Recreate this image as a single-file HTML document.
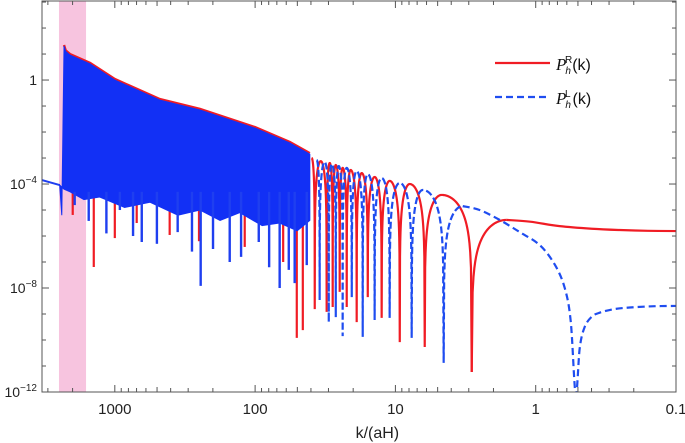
<!DOCTYPE html>
<html><head><meta charset="utf-8"><style>
html,body{margin:0;padding:0;background:#fff;}
svg{display:block;font-family:"Liberation Sans",sans-serif;}
</style></head><body>
<svg id="chart" width="685" height="443" viewBox="0 0 685 443" xmlns="http://www.w3.org/2000/svg">
<g id="plot"></g>
<g id="axes"></g>
<g>
  <line x1="495" y1="63" x2="550" y2="63" stroke="#f01c24" stroke-width="2.2"/>
  <text x="556" y="70" font-size="17" fill="#111"><tspan font-style="italic" font-family="Liberation Serif, serif">P</tspan><tspan font-size="10" dy="4" dx="-1" font-style="italic">h</tspan><tspan font-size="10" dy="-11" dx="-6">R</tspan><tspan font-size="16" dy="7">(k)</tspan></text>
  <line x1="495" y1="97" x2="550" y2="97" stroke="#1f4df0" stroke-width="2.2" stroke-dasharray="7,4"/>
  <text x="556" y="104" font-size="17" fill="#111"><tspan font-style="italic" font-family="Liberation Serif, serif">P</tspan><tspan font-size="10" dy="4" dx="-1" font-style="italic">h</tspan><tspan font-size="10" dy="-11" dx="-6">L</tspan><tspan font-size="16" dy="7" dx="2">(k)</tspan></text>
</g>
</svg>
<script>
// ---- data (log10 k, log10 P) ----
const bandLogK = [3.398, 3.205];
const envUpperLogK = [3.393, 3.378, 3.362, 3.35, 3.319, 3.176, 3.0, 2.679, 2.393, 2.0, 1.753, 1.61];
const envUpperLogP = [-4.04, -5.2, 1.31, 1.1, 0.96, 0.62, 0.0, -0.77, -1.15, -1.85, -2.42, -2.85];
const envLowerLogK = [1.61, 1.70, 1.825, 1.95, 2.11, 2.25, 2.393, 2.55, 2.75, 2.93, 3.108, 3.22, 3.319, 3.362];
const envLowerLogP = [-5.4, -5.8, -5.5, -5.6, -5.1, -5.4, -5.0, -5.2, -4.7, -4.9, -4.5, -4.6, -4.3, -4.2];
const leftLogK = [3.519, 3.393];
const leftLogP = [-3.85, -4.04];
const blueSpikeLogK = [3.286, 3.186, 3.06, 2.964, 2.87, 2.808, 2.70, 2.552, 2.45, 2.388, 2.30, 2.181, 2.10, 1.974, 1.90, 1.825, 1.76, 1.718, 1.632];
const blueSpikeLogP = [-4.81, -5.42, -5.9, -5.0, -6.0, -6.23, -6.3, -5.85, -6.6, -7.92, -6.5, -7.0, -6.8, -6.23, -7.2, -8.0, -7.3, -7.81, -7.12];
const redSpikeLogK = [3.30, 3.15, 3.0, 2.844, 2.609, 2.40, 2.074, 1.80, 1.703, 1.66];
const redSpikeLogP = [-5.19, -7.19, -6.08, -5.5, -5.96, -6.2, -6.42, -7.0, -9.92, -9.62];
const redOscLogK = [1.597,1.575,1.532,1.490,1.468,1.447,1.425,1.397,1.376,1.347,1.319,1.276,1.240,1.197,1.148,1.098,1.041,0.969,0.898,0.791,0.670,0.456];
const redOscLogP = [-3.0,-8.81,-3.12,-8.92,-3.19,-8.73,-3.27,-8.15,-3.38,-8.73,-3.46,-9.31,-3.58,-8.35,-3.73,-9.15,-3.88,-10.08,-4.0,-10.27,-4.42,-11.23];
const redTailLogK = [0.456, 0.207, 0.04, -0.171, -0.40, -0.599, -0.80, -1.0];
const redTailLogP = [-11.23, -5.38, -5.45, -5.62, -5.72, -5.77, -5.80, -5.81];
const blueOscLogK = [1.561,1.540,1.504,1.475,1.454,1.425,1.404,1.376,1.347,1.311,1.276,1.233,1.197,1.148,1.098,1.041,0.969,0.884,0.805,0.656,0.520];
const blueOscLogP = [-3.08,-8.46,-3.15,-9.31,-3.23,-9.12,-3.31,-9.85,-3.38,-8.35,-3.5,-9.88,-3.62,-9.23,-3.77,-9.15,-3.96,-9.92,-4.23,-10.88,-4.85];
const blueTailLogK = [0.520, 0.40, 0.257, 0.114, -0.029, -0.136, -0.207, -0.250, -0.285, -0.314, -0.349, -0.40, -0.456, -0.55, -0.670, -0.85, -1.0];
const blueTailLogP = [-4.85, -5.0, -5.38, -5.85, -6.35, -7.1, -8.0, -9.3, -12.1, -10.3, -9.5, -9.1, -8.95, -8.82, -8.75, -8.70, -8.69];
const yTickLabels = ["1", "10", "10", "10"];
const yTickExp = [0, -4, -8, -12];
const xTickVals = [1000, 100, 10, 1, 0.1];
const xTickLabels = ["1000", "100", "10", "1", "0.1"];

// ---- axes ----
const L=42, R=676, T=1, B=392;
const logKmax = 3.519, logKmin = -1.0;
const logPmax = 3.04, logPmin = -12;
const X = lk => L + (logKmax - lk) / (logKmax - logKmin) * (R - L);
const Y = lp => T + (logPmax - lp) / (logPmax - logPmin) * (B - T);
const NS = "http://www.w3.org/2000/svg";
const plot = document.getElementById('plot');
const axes = document.getElementById('axes');
function mk(tag, attrs, parent){const e=document.createElementNS(NS,tag);for(const k in attrs)e.setAttribute(k,attrs[k]);parent.appendChild(e);return e;}

const clip = mk('clipPath',{id:'clipP'},plot);
mk('rect',{x:L,y:T,width:R-L,height:B-T},clip);
const g = mk('g',{'clip-path':'url(#clipP)'},plot);

const band = mk('rect',{x:X(bandLogK[0]),y:T,width:X(bandLogK[1])-X(bandLogK[0]),height:B-T,fill:'#f7c4df'},g);



const lp = mk('polyline',{points:leftLogK.map((k,i)=>X(k)+','+Y(leftLogP[i])).join(' '),fill:'none',stroke:'#1f3ff0','stroke-width':2},g);



redSpikeLogK.forEach((k,i)=>{
  const s=mk('line',{x1:X(k),x2:X(k),y1:Y(-4.2),y2:Y(redSpikeLogP[i]),stroke:'#f01c24','stroke-width':2.2},g);
  
  
});
const redEdge = mk('polyline',{points:envUpperLogK.slice(2).map((k,i)=>X(k)+','+(Y(envUpperLogP[i+2])-1)).join(' '),fill:'none',stroke:'#f01c24','stroke-width':2.4},g);


const pts = envUpperLogK.map((k,i)=>X(k)+','+Y(envUpperLogP[i])).concat(envLowerLogK.map((k,i)=>X(k)+','+Y(envLowerLogP[i])));
const fill = mk('polygon',{points:pts.join(' '),fill:'#1230f5',stroke:'#1230f5','stroke-width':1},g);


blueSpikeLogK.forEach((k,i)=>{
  const s=mk('line',{x1:X(k),x2:X(k),y1:Y(-4.3),y2:Y(blueSpikeLogP[i]),stroke:'#1f3ff0','stroke-width':2.4},g);
  
  
});

function segPts(k0,p0,k1,p1,out){
  const peakFirst = p0>p1;
  const pk = peakFirst?p0:p1, dp = peakFirst?p1:p0;
  const eps = Math.pow(10,(dp-pk)/2);
  const N=40;
  for(let j=1;j<=N;j++){
    const t=j/N;
    const tt = peakFirst? t : 1-t;
    const v = pk + 2*Math.log10(Math.cos(Math.PI*tt/2)*(1-eps)+eps);
    const kk = k0+(k1-k0)*t;
    out.push(X(kk).toFixed(2)+','+Y(v).toFixed(2));
  }
}
function curvePts(ks,ps){
  const out=[X(ks[0])+','+Y(ps[0])];
  for(let i=1;i<ks.length;i++) segPts(ks[i-1],ps[i-1],ks[i],ps[i],out);
  return out.join(' ');
}
function catmull(ks,ps){
  const P=ks.map((k,i)=>[X(k),Y(ps[i])]);
  let d='M'+P[0][0]+','+P[0][1];
  for(let i=0;i<P.length-1;i++){
    const p0=P[Math.max(0,i-1)],p1=P[i],p2=P[i+1],p3=P[Math.min(P.length-1,i+2)];
    d+=` C${p1[0]+(p2[0]-p0[0])/6},${p1[1]+(p2[1]-p0[1])/6} ${p2[0]-(p3[0]-p1[0])/6},${p2[1]-(p3[1]-p1[1])/6} ${p2[0]},${p2[1]}`;
  }
  return d;
}
const rOsc = mk('polyline',{points:curvePts(redOscLogK,redOscLogP),fill:'none',stroke:'#f01c24','stroke-width':2.2},g);


const rt = [X(redTailLogK[0])+','+Y(redTailLogP[0])];
segPts(redTailLogK[0],redTailLogP[0],redTailLogK[1],redTailLogP[1],rt);
const rRise = mk('polyline',{points:rt.join(' '),fill:'none',stroke:'#f01c24','stroke-width':2.2},g);


const rTail = mk('path',{d:catmull(redTailLogK.slice(1),redTailLogP.slice(1)),fill:'none',stroke:'#f01c24','stroke-width':2.2},g);


const bOsc = mk('polyline',{points:curvePts(blueOscLogK,blueOscLogP),fill:'none',stroke:'#1f4df0','stroke-width':2.2,'stroke-dasharray':'7,3'},g);


const bTail = mk('path',{d:catmull(blueTailLogK,blueTailLogP),fill:'none',stroke:'#1f4df0','stroke-width':2.2,'stroke-dasharray':'7,4'},g);



const frame = mk('rect',{x:L,y:T,width:R-L,height:B-T,fill:'none',stroke:'#555','stroke-width':1},axes);


for(let e=3;e>=-12;e--){
  const y=Y(e), major=(e%4===0);
  const len=major?7:4;
  mk('line',{x1:L,x2:L+len,y1:y,y2:y,stroke:'#555'},axes);
  mk('line',{x1:R,x2:R-len,y1:y,y2:y,stroke:'#555'},axes);
}
yTickExp.forEach((e,i)=>{
  const t=mk('text',{x:L-5,y:Y(e)+5,'text-anchor':'end','font-size':14,fill:'#222'},axes);
  
  
  t.textContent=yTickLabels[i];
  if(e!==0){const s=mk('tspan',{dy:-6,'font-size':10},t);s.textContent='−'+(-e);}
});
for(let d=-1;d<=3;d++){
  for(let m=1;m<=9;m++){
    const lk=d+Math.log10(m);
    if(lk>logKmax||lk<logKmin)continue;
    const x=X(lk),len=(m===1)?7:(m===5?5:4);
    mk('line',{x1:x,x2:x,y1:B,y2:B-len,stroke:'#555'},axes);
    mk('line',{x1:x,x2:x,y1:T,y2:T+len,stroke:'#555'},axes);
  }
}
xTickVals.forEach((v,i)=>{
  const t=mk('text',{x:X(Math.log10(v)),y:B+22,'text-anchor':'middle','font-size':15,fill:'#222'},axes);
  
  
  t.textContent=xTickLabels[i];
});
const xt=mk('text',{x:X(1.2)+10,y:B+46,'text-anchor':'middle','font-size':16,fill:'#222'},axes);


xt.textContent='k/(aH)';
</script>
</body></html>
